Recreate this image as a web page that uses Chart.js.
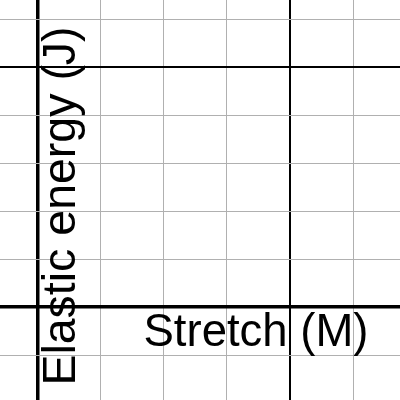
<!DOCTYPE html>
<html><head><script src="https://cdn.jsdelivr.net/npm/chart.js@4"></script>
<style>html,body{margin:0;padding:0;background:#fff}#w{width:400px;height:400px}</style></head>
<body><div id="w"><canvas id="c"></canvas></div>
<script>
const xTitle = "Stretch (M)";
const yTitle = "Elastic energy (J)";
const xRange = [-0.603, 5.746];
const yRange = [-1.9375, 6.396];
const majorX = [0, 4];
const majorY = [0, 5];
function gridStyle(major){
  return {
    drawTicks:false,
    color: c => (c.tick && major.includes(c.tick.value)) ? '#000' : '#b0b0b0',
    lineWidth: c => !c.tick ? 1 : (c.tick.value===0 ? 3.5 : (major.includes(c.tick.value) ? 2 : 1))
  };
}
const labels = {
  id:'labels',
  afterDraw(ch){
    const g=ch.ctx; g.save(); g.fillStyle='#000';
    g.textAlign='center'; g.textBaseline='middle';
    g.font='45.5px "Liberation Sans", Arial, sans-serif';
    g.fillText(xTitle, 256, 333);
    g.font='46.5px "Liberation Sans", Arial, sans-serif';
    g.translate(62, 206); g.rotate(-Math.PI/2);
    g.fillText(yTitle, 0, 0);
    g.restore();
  }
};
new Chart(document.getElementById('c'),{
  type:'scatter',
  data:{datasets:[{data:[]}]},
  options:{
    responsive:true, maintainAspectRatio:false, animation:false,
    layout:{padding:0},
    plugins:{legend:{display:false},tooltip:{enabled:false}},
    scales:{
      x:{min:xRange[0],max:xRange[1],border:{display:false},grid:gridStyle(majorX),
         ticks:{display:false,stepSize:1,includeBounds:false}},
      y:{min:yRange[0],max:yRange[1],border:{display:false},grid:gridStyle(majorY),
         ticks:{display:false,stepSize:1,includeBounds:false}}
    }
  },
  plugins:[labels]
});
</script></body></html>
